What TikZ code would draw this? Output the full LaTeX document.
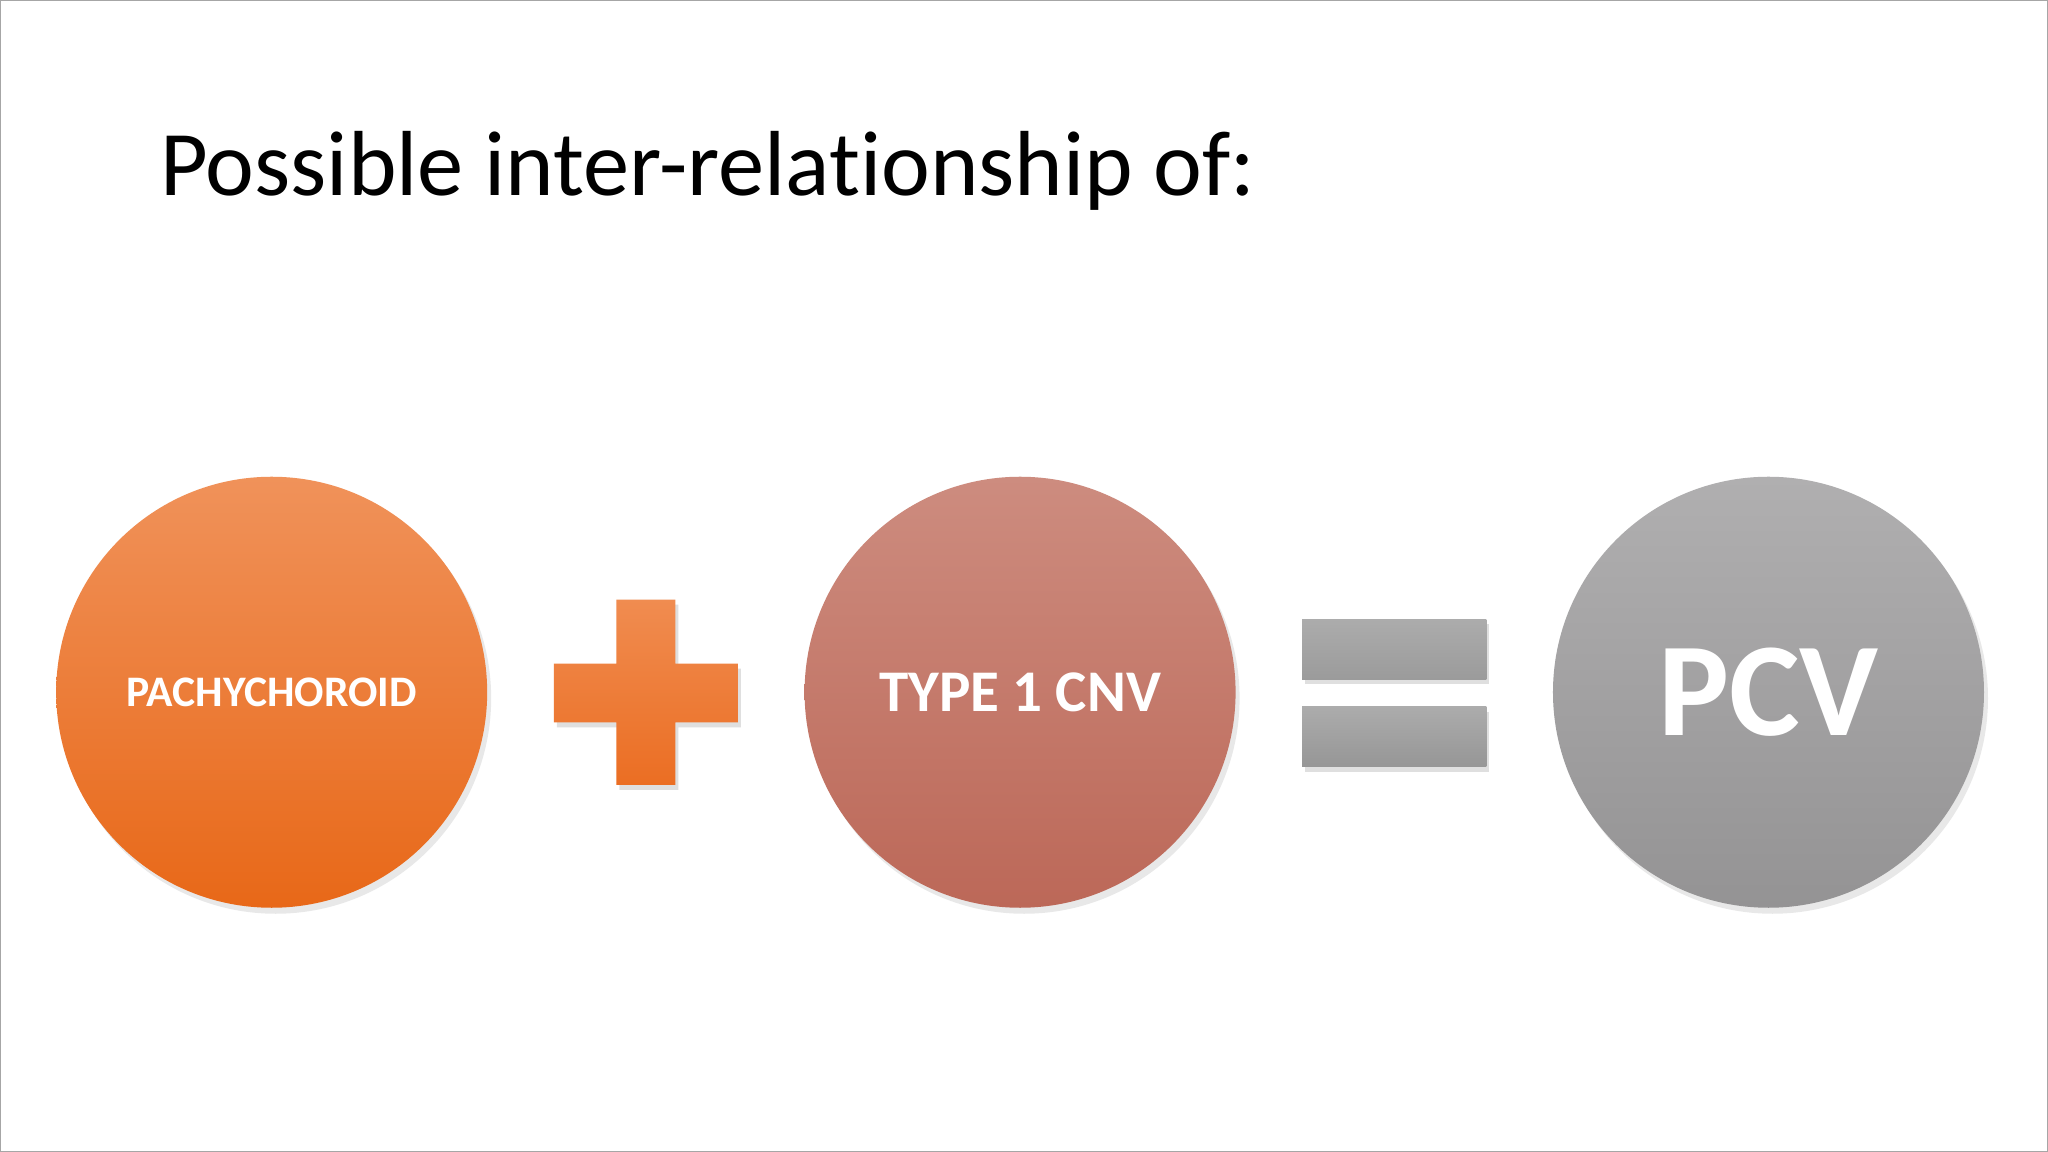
\documentclass[tikz,border=0pt]{standalone}
\usepackage{fontspec}
\setmainfont{Carlito}
\usetikzlibrary{shadows}
\begin{document}
\begin{tikzpicture}[x=0.01306cm,y=-0.01306cm,
  ball/.style={circle,minimum size=330*0.01306cm,inner sep=0pt,
    drop shadow={shadow xshift=0.4mm,shadow yshift=-0.6mm,opacity=0.18}},
  lbl/.style={text=white,font=\bfseries},
  bar/.style={drop shadow={shadow xshift=0.3mm,shadow yshift=-0.5mm,opacity=0.25}}]
\useasboundingbox (0,0) rectangle (1568,882);
\fill[white] (0,0) rectangle (1568,882);
\draw[black!35,line width=0.4pt] (0.5,0.5) rectangle (1567.5,881.5);
\node[anchor=base west,font=\fontsize{26.3}{32}\selectfont,inner sep=0pt] (title) at (122,150) {Possible inter-relat\kern0pt ionship of:};
\node[ball,top color={rgb,255:red,240;green,146;blue,90},bottom color={rgb,255:red,232;green,104;blue,24}] (a) at (208,530) {};
\node[lbl,font=\bfseries\fontsize{12.4}{15}\selectfont] at (a) {PACHYCHOROID};
\node[ball,top color={rgb,255:red,205;green,140;blue,127},bottom color={rgb,255:red,188;green,104;blue,88}] (b) at (781,530) {};
\node[lbl,font=\bfseries\fontsize{16.8}{20}\selectfont] at (b) {TYPE 1 CNV};
\node[ball,top color={rgb,255:red,176;green,175;blue,176},bottom color={rgb,255:red,148;green,147;blue,148}] (c) at (1354,530) {};
\node[lbl,font=\bfseries\fontsize{38}{44}\selectfont] at (c) {PCV};
% plus
\path[bar,top color={rgb,255:red,240;green,140;blue,80},bottom color={rgb,255:red,235;green,110;blue,35}]
  (472,459) -- (517,459) -- (517,508) -- (565,508) -- (565,553) -- (517,553) -- (517,601) -- (472,601) -- (472,553) -- (424,553) -- (424,508) -- (472,508) -- cycle;
% equals
\path[bar,top color={rgb,255:red,172;green,172;blue,172},bottom color={rgb,255:red,155;green,155;blue,155}] (997,474) rectangle (1138,520);
\path[bar,top color={rgb,255:red,172;green,172;blue,172},bottom color={rgb,255:red,150;green,150;blue,150}] (997,541) rectangle (1138,587);
\end{tikzpicture}
\end{document}
